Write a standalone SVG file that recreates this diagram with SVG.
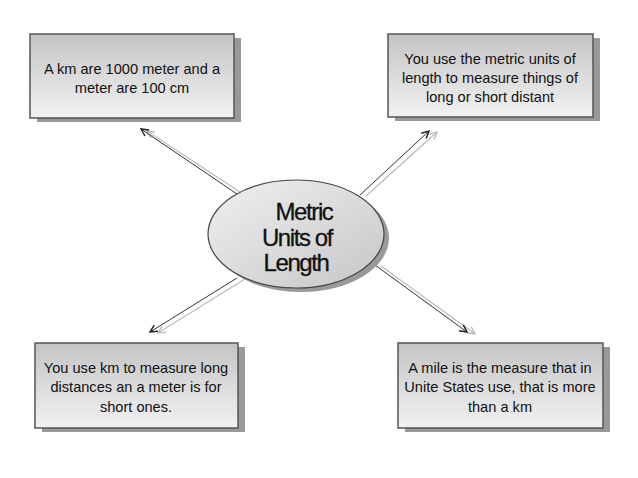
<svg xmlns="http://www.w3.org/2000/svg" width="638" height="478" viewBox="0 0 638 478">
<defs>
<linearGradient id="bg" x1="0" y1="0" x2="0" y2="1">
<stop offset="0" stop-color="#c4c4c4"/>
<stop offset="1" stop-color="#f2f2f2"/>
</linearGradient>
<linearGradient id="eg" x1="0" y1="0" x2="1" y2="1">
<stop offset="0" stop-color="#f0f0f0"/>
<stop offset="1" stop-color="#c6c6c6"/>
</linearGradient>
<marker id="ad" viewBox="0 0 10 10" refX="9" refY="5" markerWidth="9" markerHeight="9" markerUnits="userSpaceOnUse" orient="auto">
<path d="M1,1 L9,5 L1,9" fill="none" stroke="#222" stroke-width="1.6"/>
</marker>
<marker id="al" viewBox="0 0 10 10" refX="9" refY="5" markerWidth="9" markerHeight="9" markerUnits="userSpaceOnUse" orient="auto">
<path d="M1,1 L9,5 L1,9" fill="none" stroke="#bbb" stroke-width="1.6"/>
</marker>
</defs>
<style>
.sh{fill:#999}
.bx{fill:url(#bg);stroke:#555;stroke-width:1.5}
.t{font-family:"Liberation Sans",Arial,sans-serif;font-size:14.6px;fill:#111;text-anchor:middle}
.tc{font-family:"Liberation Sans",Arial,sans-serif;font-size:24px;fill:#111;text-anchor:middle;letter-spacing:-1.4px;stroke:#111;stroke-width:0.3}
.d{stroke:#333;stroke-width:1;fill:none;marker-end:url(#ad)}
.l{stroke:#bbb;stroke-width:1.2;fill:none;marker-end:url(#al)}
</style>
<rect width="638" height="478" fill="#fff"/>
<g id="connectors">
<line class="l" x1="246" y1="196" x2="147" y2="131"/>
<line class="d" x1="240" y1="196" x2="141" y2="129"/>
<line class="l" x1="366" y1="196" x2="437" y2="132"/>
<line class="d" x1="360" y1="195" x2="429" y2="131"/>
<line class="l" x1="245" y1="279" x2="158" y2="333"/>
<line class="d" x1="237" y1="278" x2="150" y2="332"/>
<line class="l" x1="381" y1="266" x2="475" y2="334"/>
<line class="d" x1="375" y1="265" x2="467" y2="332"/>
</g>
<g id="center">
<ellipse class="sh" cx="301" cy="238" rx="88" ry="54" fill="#888"/>
<ellipse cx="296" cy="234" rx="88" ry="54" fill="url(#eg)" stroke="#444" stroke-width="1.2"/>
<text class="tc" x="304" y="220">Metric</text>
<text class="tc" x="297" y="246">Units of</text>
<text class="tc" x="296" y="271">Length</text>
</g>
<g id="box-tl">
<rect class="sh" x="37" y="38" width="204" height="84"/>
<rect class="bx" x="30" y="34" width="204" height="84"/>
<text class="t" x="132" y="74">A km are 1000 meter and a</text>
<text class="t" x="132" y="93">meter are 100 cm</text>
</g>
<g id="box-tr">
<rect class="sh" x="395" y="38" width="205" height="83"/>
<rect class="bx" x="388" y="34" width="205" height="83"/>
<text class="t" x="490" y="64">You use the metric units of</text>
<text class="t" x="490" y="83">length to measure things of</text>
<text class="t" x="490" y="102">long or short distant</text>
</g>
<g id="box-bl">
<rect class="sh" x="42" y="347" width="203" height="85"/>
<rect class="bx" x="35" y="343" width="203" height="85"/>
<text class="t" x="136" y="373">You use km to measure long</text>
<text class="t" x="136" y="392">distances an a meter is for</text>
<text class="t" x="136" y="412">short ones.</text>
</g>
<g id="box-br">
<rect class="sh" x="405" y="347" width="205" height="85"/>
<rect class="bx" x="398" y="343" width="205" height="85"/>
<text class="t" x="500" y="373">A mile is the measure that in</text>
<text class="t" x="500" y="392">Unite States use, that is more</text>
<text class="t" x="500" y="412">than a km</text>
</g>
</svg>
